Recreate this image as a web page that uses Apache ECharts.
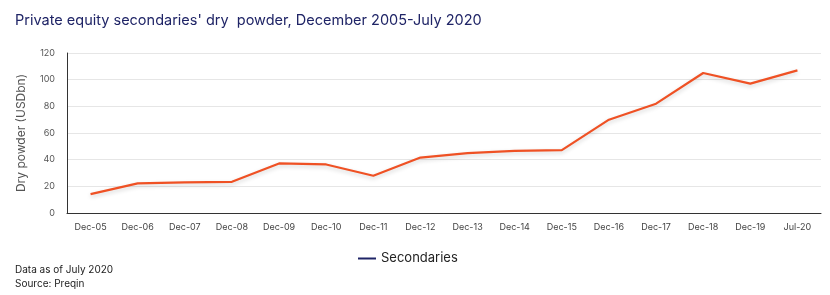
<!DOCTYPE html>
<html>
<head>
<meta charset="utf-8">
<script src="https://cdn.jsdelivr.net/npm/echarts@6/dist/echarts.min.js"></script>
<style>
  html, body { margin: 0; padding: 0; background: #fff; }
  #chart { width: 830px; height: 295px; }
</style>
</head>
<body>
<div id="chart"></div>
<script>
const categories = ["Dec-05", "Dec-06", "Dec-07", "Dec-08", "Dec-09", "Dec-10", "Dec-11", "Dec-12",
  "Dec-13", "Dec-14", "Dec-15", "Dec-16", "Dec-17", "Dec-18", "Dec-19", "Jul-20"];
const secondaries = [14.2, 22.2, 23.0, 23.4, 37.2, 36.4, 27.9, 41.6, 44.9, 46.6, 47.1, 70, 82, 105, 97, 107];

const font = "Inter, 'Noto Sans', sans-serif";
const chart = echarts.init(document.getElementById("chart"));

chart.setOption({
  animation: false,
  textStyle: { fontFamily: font },
  title: [
    {
      text: "Private equity secondaries' dry  powder, December 2005-July 2020",
      left: 10, top: 8,
      textStyle: { fontFamily: font, fontSize: 14.5, fontWeight: "normal", color: "#1f2466" }
    },
    {
      text: "Data as of July 2020\nSource: Preqin",
      left: 10, top: 258,
      textStyle: { fontFamily: font, fontSize: 10, fontWeight: "normal", color: "#222", lineHeight: 14 }
    }
  ],
  legend: {
    top: 247,
    left: 353,
    itemWidth: 18,
    itemHeight: 2,
    itemGap: 10,
    icon: "rect",
    textStyle: { fontFamily: font, fontSize: 13, color: "#222" },
    data: [{ name: "Secondaries", itemStyle: { color: "#1f2466" } }]
  },
  grid: { left: 67, right: 9, top: 53, bottom: 82 },
  xAxis: {
    type: "category",
    data: categories,
    axisLine: { lineStyle: { color: "#333", width: 1 } },
    axisTick: { show: false },
    axisLabel: { fontFamily: font, fontSize: 9, color: "#444", margin: 10, interval: 0 }
  },
  yAxis: {
    type: "value",
    min: 0, max: 120, interval: 20,
    name: "Dry powder (USDbn)",
    nameLocation: "middle",
    nameGap: 40,
    nameTextStyle: { fontFamily: font, fontSize: 12, color: "#555" },
    axisLine: { show: true, lineStyle: { color: "#333", width: 1 } },
    axisTick: { show: false },
    axisLabel: { fontFamily: font, fontSize: 9, color: "#555", margin: 12 },
    splitLine: { lineStyle: { color: "#e6e6e6" } }
  },
  series: [{
    name: "Secondaries",
    type: "line",
    data: secondaries,
    symbol: "none",
    itemStyle: { color: "#1f2466" },
    lineStyle: {
      color: "#ef5124",
      width: 2.2,
      shadowColor: "rgba(0,0,0,0.18)",
      shadowBlur: 4,
      shadowOffsetY: 2
    }
  }]
});
</script>
</body>
</html>
